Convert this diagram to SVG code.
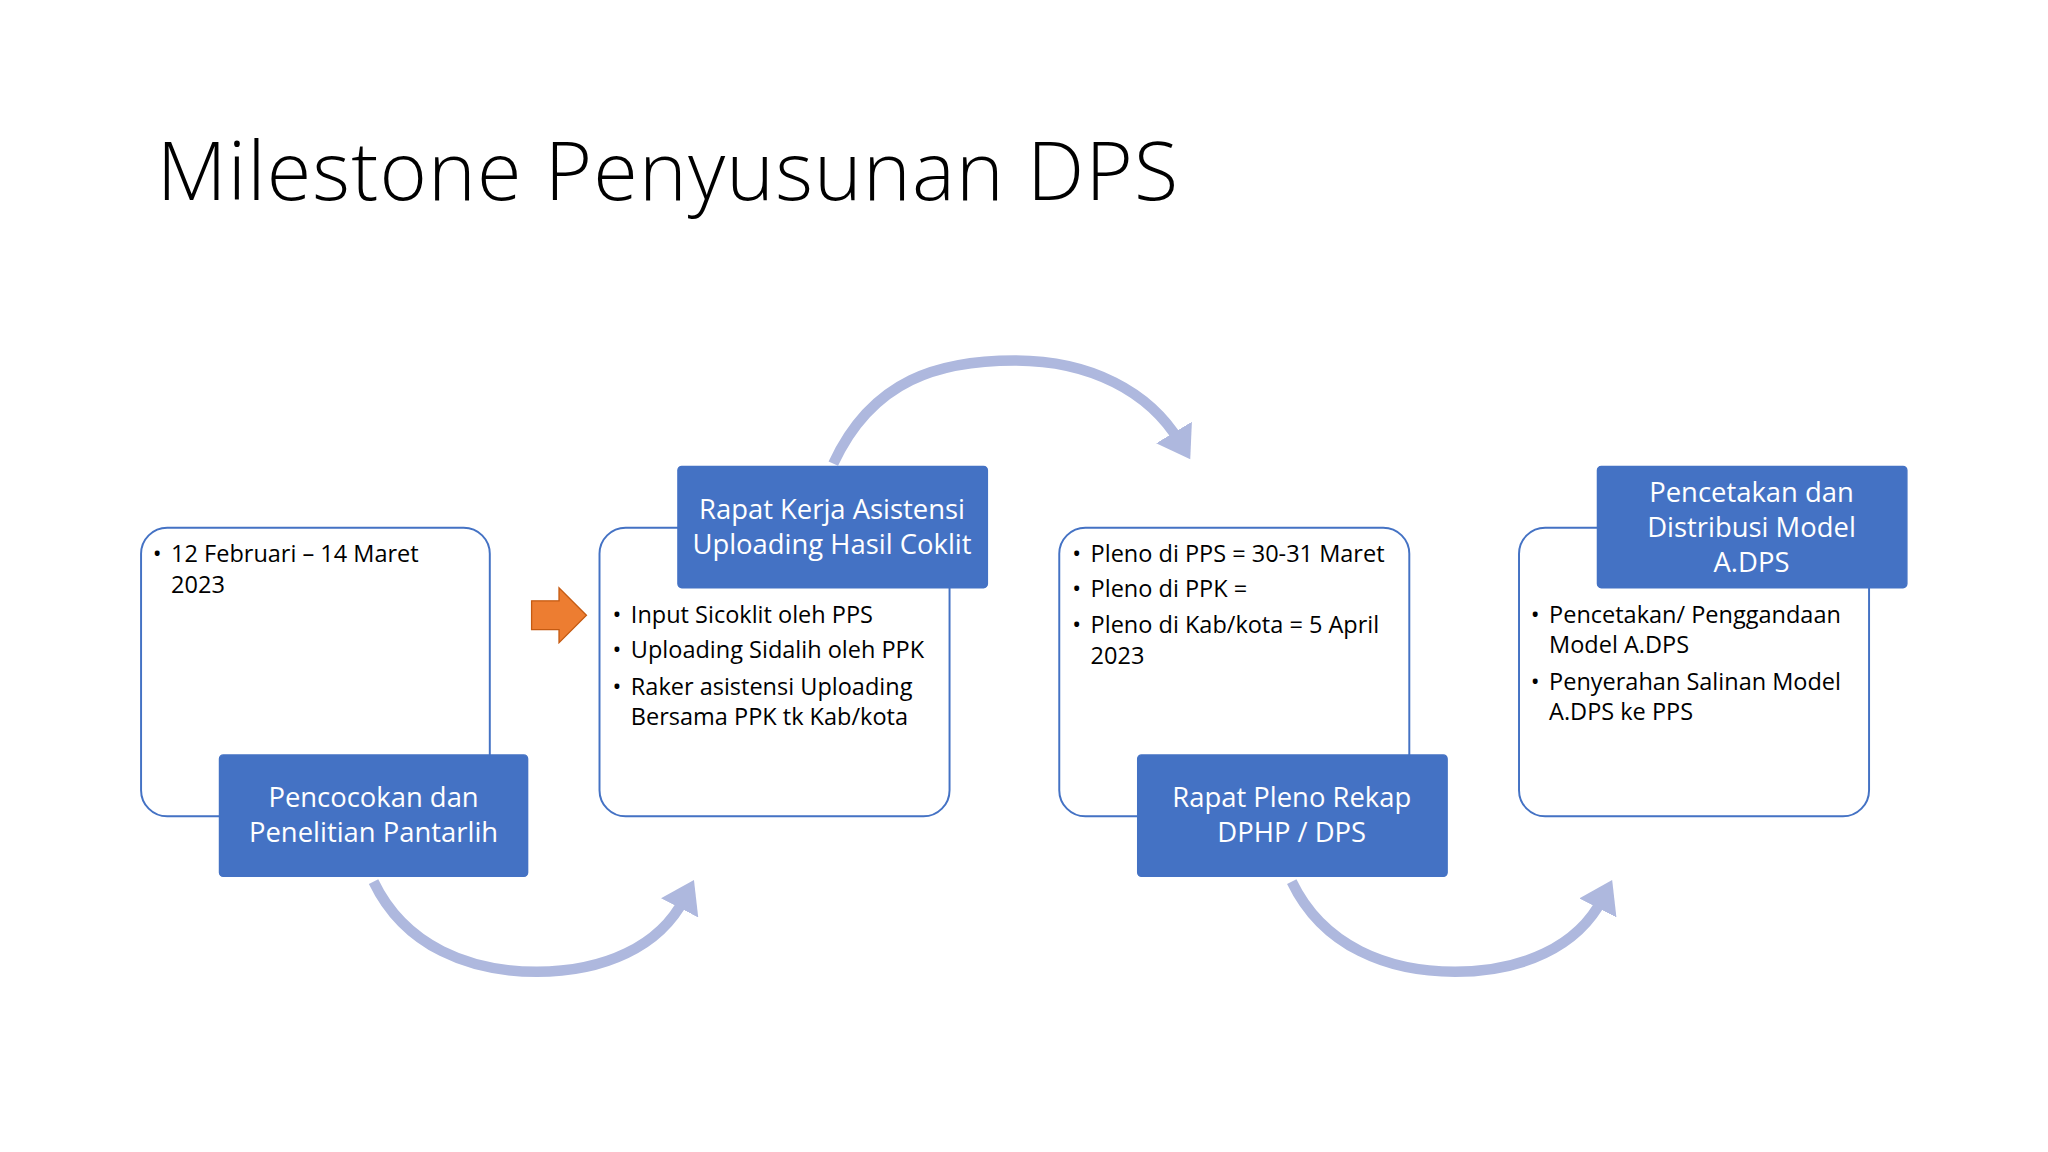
<svg xmlns="http://www.w3.org/2000/svg" width="2048" height="1152" viewBox="0 0 2048 1152">
<style>
.card{fill:#fff;stroke:#4472C4;stroke-width:1.5}
.lab{fill:#4472C4;stroke:#4472C4}
.lt{font-family:"Open Sans","Noto Sans",sans-serif;font-size:21px;fill:#fff;text-anchor:middle}
.bt{font-family:"Open Sans","Noto Sans",sans-serif;font-size:18px;fill:#000}
.arc{fill:none;stroke:#AEB8DE;stroke-width:8}
</style>
<defs>
<marker id="ah" markerWidth="4" markerHeight="4" refX="1" refY="2" orient="auto" markerUnits="strokeWidth"><path d="M0,0 L3,2 L0,4 Z" fill="#AEB8DE"/></marker>
</defs>
<rect width="2048" height="1152" fill="#fff"/>
<g transform="scale(1.30612)">
<text x="120" y="153" font-family="Open Sans,Noto Sans,sans-serif" font-weight="300" font-size="62" textLength="782" fill="#000">Milestone Penyusunan DPS</text>
<g id="connectors">
<path class="arc" d="M638,355 C668,290 720,276 777,276 C835,276 880,300 903,338" marker-end="url(#ah)"/>
<path class="arc" d="M286,675 C310,725 360,744 411,744 C462,744 505,725 524,688" marker-end="url(#ah)"/>
<path class="arc" d="M989,675 C1013,725 1063,744 1114,744 C1165,744 1208,725 1227,688" marker-end="url(#ah)"/>
<polygon points="407,460 428,460 428,450 449,471 428,492 428,482 407,482" fill="#ED7D31" stroke="#C55A11" stroke-width="1"/>
</g>
<g id="n1">
<rect class="card" x="108" y="404" width="267" height="221" rx="20"/>
<text class="bt"><tspan x="117" y="430">•</tspan><tspan x="131" y="430">12 Februari – 14 Maret</tspan><tspan x="131" y="454">2023</tspan></text>
<rect class="lab" x="168" y="578" width="236" height="93" rx="3"/>
<text class="lt"><tspan x="286" y="618">Pencocokan dan</tspan><tspan x="286" y="645">Penelitian Pantarlih</tspan></text>
</g>
<g id="n2">
<rect class="card" x="459" y="404" width="268" height="221" rx="20"/>
<text class="bt"><tspan x="469" y="477">•</tspan><tspan x="483" y="477">Input Sicoklit oleh PPS</tspan><tspan x="469" y="504">•</tspan><tspan x="483" y="504">Uploading Sidalih oleh PPK</tspan><tspan x="469" y="532">•</tspan><tspan x="483" y="532">Raker asistensi Uploading</tspan><tspan x="483" y="555">Bersama PPK tk Kab/kota</tspan></text>
<rect class="lab" x="519" y="357" width="237" height="93" rx="3"/>
<text class="lt"><tspan x="637" y="397">Rapat Kerja Asistensi</tspan><tspan x="637" y="424">Uploading Hasil Coklit</tspan></text>
</g>
<g id="n3">
<rect class="card" x="811" y="404" width="268" height="221" rx="20"/>
<text class="bt"><tspan x="821" y="430">•</tspan><tspan x="835" y="430">Pleno di PPS = 30-31 Maret</tspan><tspan x="821" y="457">•</tspan><tspan x="835" y="457">Pleno di PPK =</tspan><tspan x="821" y="485">•</tspan><tspan x="835" y="485">Pleno di Kab/kota = 5 April</tspan><tspan x="835" y="508">2023</tspan></text>
<rect class="lab" x="871" y="578" width="237" height="93" rx="3"/>
<text class="lt"><tspan x="989" y="618">Rapat Pleno Rekap</tspan><tspan x="989" y="645">DPHP / DPS</tspan></text>
</g>
<g id="n4">
<rect class="card" x="1163" y="404" width="268" height="221" rx="20"/>
<text class="bt"><tspan x="1172" y="477">•</tspan><tspan x="1186" y="477">Pencetakan/ Penggandaan</tspan><tspan x="1186" y="500">Model A.DPS</tspan><tspan x="1172" y="528">•</tspan><tspan x="1186" y="528">Penyerahan Salinan Model</tspan><tspan x="1186" y="551">A.DPS ke PPS</tspan></text>
<rect class="lab" x="1223" y="357" width="237" height="93" rx="3"/>
<text class="lt"><tspan x="1341" y="384">Pencetakan dan</tspan><tspan x="1341" y="411">Distribusi Model</tspan><tspan x="1341" y="438">A.DPS</tspan></text>
</g>
</g>
</svg>
